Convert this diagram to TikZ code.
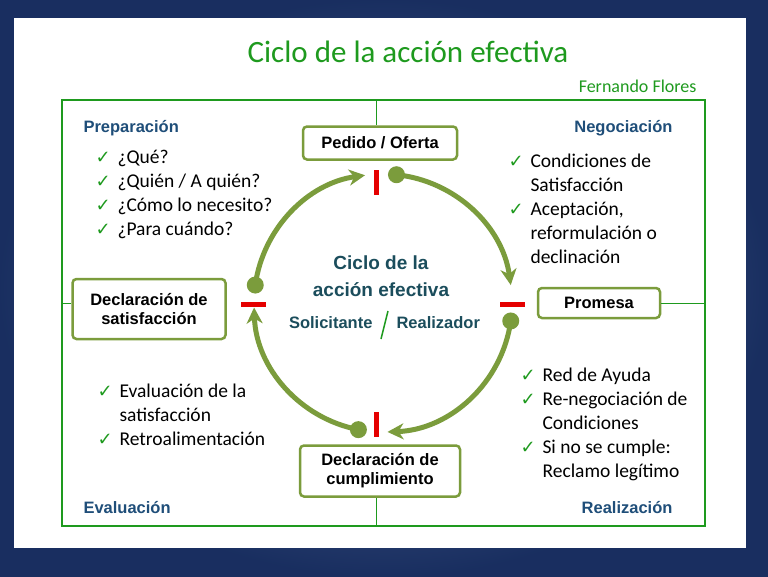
\documentclass[tikz,border=0pt]{standalone}
\usepackage{fontspec}
\setmainfont{Carlito}
\newfontfamily\arl{Liberation Sans}
\newfontfamily\dejav{DejaVu Sans}
\usetikzlibrary{arrows.meta}
\definecolor{ol}{HTML}{7B9C3C}
\definecolor{gf}{HTML}{1E9A1E}
\definecolor{hd}{HTML}{1F4E79}
\definecolor{tl}{HTML}{1B4D5C}
\definecolor{bg}{HTML}{1F3A78}
\tikzset{
 box/.style={draw=ol,line width=2.5pt,rounded corners=4pt,fill=white,font=\arl\bfseries\fontsize{16.5}{19}\selectfont,align=center},
 arc/.style={draw=ol,line width=5pt,-{Stealth[length=16pt,width=16pt,inset=5pt]}},
 bar/.style={draw=red!90!black,line width=5pt},
 hdr/.style={font=\arl\bfseries\fontsize{16.5}{19}\selectfont,text=hd},
 txt/.style={font=\fontsize{19.5}{24}\selectfont,align=left,anchor=north west},
}
\newcommand{\ck}{\makebox[22pt][l]{\dejav\color{gf}\fontsize{18}{18}\selectfont ✓}}
\begin{document}
\begin{tikzpicture}[x=1pt,y=-1pt]
\useasboundingbox (0,0) rectangle (768,576);
\shade[inner color=bg!60!white!70!bg, outer color=bg!80!black] (0,0) rectangle (768,576);
\fill[white] (14,18) rectangle (746,548);
\node[text=gf,font=\fontsize{31}{34}\selectfont] (title) at (408,52) {Ciclo de la acción efectiva};
\node[text=gf,font=\fontsize{18}{20}\selectfont,anchor=east] (ff) at (700,86) {Fernando Flores};
\draw[gf,line width=2.5pt] (62,100) rectangle (705,526);
% boxes
\node[box,minimum width=154pt,minimum height=33pt] (po) at (380,143) {Pedido / Oferta};
\node[box,minimum width=122pt,minimum height=30pt] (pr) at (599,303) {Promesa};
\node[box,minimum width=160pt,minimum height=51pt] (dc) at (380,471) {Declaración de\\cumplimiento};
\node[box,minimum width=153pt,minimum height=60pt] (ds) at (149,309) {Declaración de\\satisfacción};
\coordinate (t) at (376,100); \coordinate (b) at (376,526);
\coordinate (l) at (62,303); \coordinate (r) at (705,303);
\draw[gf,line width=1pt] (t) -- (t|-po.north);
\draw[gf,line width=1pt] (b) -- (b|-dc.south);
\draw[gf,line width=1pt] (l) -- (l-|ds.west);
\draw[gf,line width=1pt] (r) -- (r-|pr.east);
% arcs
\coordinate (c) at (383,303);
\draw[arc] ([shift={(-84:129)}]c) arc[start angle=-84,end angle=-8,radius=129];
\draw[arc] ([shift={(8:129)}]c) arc[start angle=8,end angle=88,radius=129];
\draw[arc] ([shift={(101:129)}]c) arc[start angle=101,end angle=178,radius=129];
\draw[arc] ([shift={(-172:129)}]c) arc[start angle=-172,end angle=-98,radius=129];
\foreach \a in {-84,8,101,-172}{\fill[ol] ([shift={(\a:129)}]c) circle (8.5);}
\draw[bar] (376,170) -- (376,195);
\draw[bar] (500,304) -- (525,304);
\draw[bar] (376,412) -- (376,437);
\draw[bar] (241,304) -- (266,304);
% center
\node[text=tl,font=\arl\bfseries\fontsize{19}{27}\selectfont,align=center] (ct) at (381,276) {Ciclo de la\\acción efectiva};
\node[text=tl,font=\arl\bfseries\fontsize{16.5}{19}\selectfont,anchor=east] (so) at (376,323) {Solicitante};
\node[text=tl,font=\arl\bfseries\fontsize{16.5}{19}\selectfont,anchor=west] (re) at (393,323) {Realizador};
\draw[gf,line width=1.5pt] (381,339) -- (388,311);
% headers
\node[hdr,anchor=west] (h1) at (80,128) {Preparación};
\node[hdr,anchor=east] (h2) at (676,128) {Negociación};
\node[hdr,anchor=west] (h3) at (80,508) {Evaluación};
\node[hdr,anchor=east] (h4) at (676,508) {Realización};
% lists
\node[txt] (l1) at (92,147) {\ck¿Qué?\\\ck¿Quién / A quién?\\\ck¿Cómo lo necesito?\\\ck¿Para cuándo?};
\node[txt] (l2) at (505,150) {\ck Condiciones de\\\hphantom{\ck}Satisfacción\\\ck Aceptación,\\\hphantom{\ck}reformulación o\\\hphantom{\ck}declinación};
\node[txt] (l3) at (94,380) {\ck Evaluación de la\\\hphantom{\ck}satisfacción\\\ck Retroalimentación};
\node[txt] (l4) at (517,364) {\ck Red de Ayuda\\\ck Re-negociación de\\\hphantom{\ck}Condiciones\\\ck Si no se cumple:\\\hphantom{\ck}Reclamo legítimo};
\end{tikzpicture}
\end{document}
